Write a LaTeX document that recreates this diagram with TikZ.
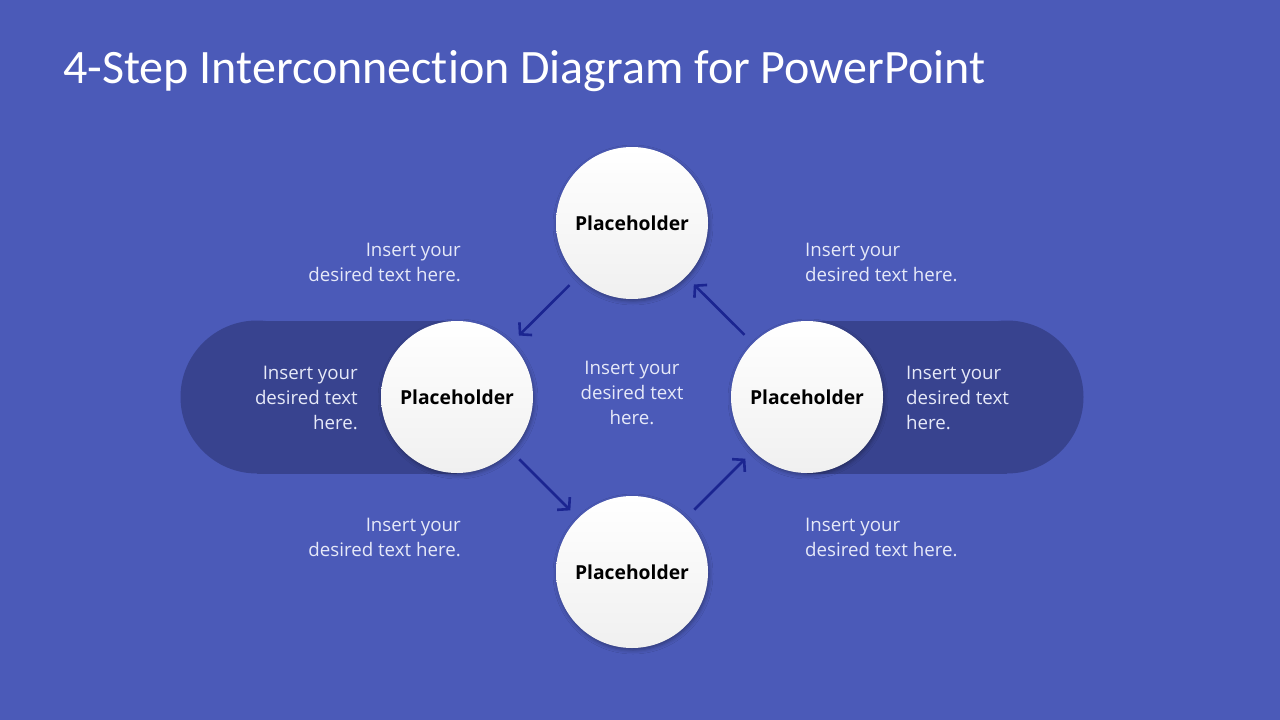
\documentclass[tikz,border=0pt]{standalone}
\usepackage{fontspec}
\setmainfont[Ligatures=NoCommon]{Carlito}
\newfontfamily\bodyfont{Open Sans}
\usetikzlibrary{arrows.meta,shadows.blur}
\definecolor{bg}{HTML}{4B5AB8}
\definecolor{pillc}{HTML}{38438F}
\definecolor{arrc}{HTML}{1B2591}
\definecolor{txtc}{HTML}{E6E9F8}
\definecolor{circbot}{HTML}{F0F0F0}
\begin{document}
\begin{tikzpicture}[x=1pt,y=-1pt,
  circ/.style={circle, minimum size=152pt, inner sep=0pt,
    top color=white, bottom color=circbot,
    blur shadow={shadow xshift=1pt, shadow yshift=-2pt, shadow opacity=35, shadow blur radius=4pt},
    font=\bodyfont\bfseries\fontsize{19.3}{23}\selectfont, text=black},
  body/.style={font=\bodyfont\fontsize{18.7}{25}\selectfont, text=txtc, inner sep=0pt},
  conn/.style={draw=arrc, line width=2.6pt, shorten <=12pt, shorten >=11pt,
    -{Straight Barb[length=8pt,width=18pt,line width=2.6pt]}}
]
\useasboundingbox (0,0) rectangle (1280,720);
\fill[bg] (0,0) rectangle (1280,720);
% title
\node[anchor=base west, inner sep=0pt, text=white, font=\fontsize{48}{56}\selectfont] (title) at (63,83) {4-Step Interconnection Diagram for PowerPoint};
% pills
\fill[pillc] (257,397) circle[radius=76.5];
\fill[pillc] (257,320.5) rectangle (457,473.5);
\fill[pillc] (1007,397) circle[radius=76.5];
\fill[pillc] (807,320.5) rectangle (1007,473.5);
% circles
\node[circ] (top) at (632,223) {Placeholder};
\node[circ] (left) at (457,397) {Placeholder};
\node[circ] (right) at (807,397) {Placeholder};
\node[circ] (bottom) at (632,572) {Placeholder};
% arrows
\draw[conn] (top) -- (left);
\draw[conn] (left) -- (bottom);
\draw[conn] (bottom) -- (right);
\draw[conn] (right) -- (top);
% texts
\node[body, anchor=east, align=right] (tl) at (461,262) {Insert your\\desired text here.};
\node[body, anchor=west, align=left] (tr) at (805,262) {Insert your\\desired text here.};
\node[body, anchor=east, align=right] (bl) at (461,537) {Insert your\\desired text here.};
\node[body, anchor=west, align=left] (br) at (805,537) {Insert your\\desired text here.};
\node[body, align=center] (ctr) at (632,393) {Insert your\\desired text\\here.};
\node[body, anchor=east, align=right] (lp) at (358,398) {Insert your\\desired text\\here.};
\node[body, anchor=west, align=left] (rp) at (906,398) {Insert your\\desired text\\here.};
\end{tikzpicture}
\end{document}
